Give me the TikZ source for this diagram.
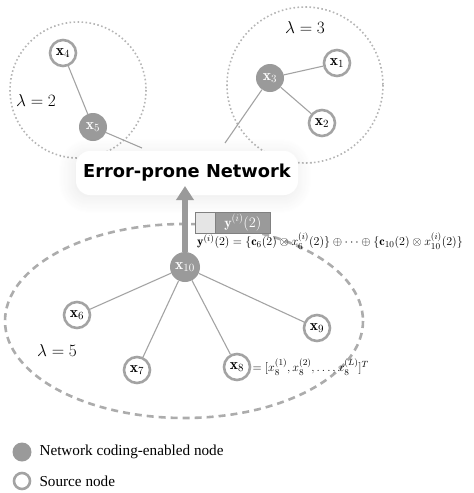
\documentclass[tikz,border=0pt]{standalone}
\usepackage{fontspec}
\usepackage{amsmath}
\newfontfamily\legendfont{Liberation Serif}
\newfontfamily\netfont{DejaVu Sans}
\usetikzlibrary{arrows.meta,shadows.blur}
\definecolor{ngray}{HTML}{A3A3A3}
\definecolor{dgray}{HTML}{9A9A9A}
\tikzset{
  src/.style={draw=ngray, line width=2.6pt, circle, fill=white, minimum size=26pt, inner sep=0pt, font=\fontsize{15.5}{15.5}\selectfont},
  nc/.style={circle, fill=dgray, text=white, minimum size=28pt, inner sep=0pt, font=\fontsize{15.5}{15.5}\selectfont},
  link/.style={draw=ngray, line width=1.1pt},
  zone/.style={draw=ngray!80, line width=1.6pt, dash pattern=on 1.6pt off 2.4pt},
  lbl/.style={font=\fontsize{16.5}{16.5}\selectfont}
}
\begin{document}
\begin{tikzpicture}[x=1pt,y=-1pt]
\useasboundingbox (0,0) rectangle (474,493);
% clusters
\draw[zone] (78,90) circle (68);
\draw[zone] (305,85) circle (78);
\draw[ngray!90, line width=2.6pt, dash pattern=on 7pt off 5pt] (184,321) ellipse (179 and 97);

% lambda = 2
\node[src] (x4) at (63,53) {$\mathbf{x}_4$};
\node[nc] (x5) at (93,127) {$\mathbf{x}_5$};
\node[lbl] (l2) at (36,100) {$\lambda=2$};
\coordinate (e5) at (142,148);
\path[link] (x4) -- (x5);
\path[link] (x5) -- (e5);

% lambda = 3
\node[nc] (x3) at (270,78) {$\mathbf{x}_3$};
\node[src] (x1) at (337,63) {$\mathbf{x}_1$};
\node[src] (x2) at (322,123) {$\mathbf{x}_2$};
\node[lbl] (l3) at (305,27) {$\lambda=3$};
\coordinate (e3) at (225,143);
\path[link] (x3) -- (x1);
\path[link] (x3) -- (x2);
\path[link] (x3) -- (e3);

% network
\node[fill=white, rounded corners=14pt, blur shadow={shadow xshift=-2pt, shadow yshift=-3pt, shadow blur radius=16pt, shadow blur steps=16, shadow opacity=9},
  minimum width=222pt, minimum height=44pt, font=\netfont\bfseries\fontsize{17.8}{17.8}\selectfont] (net) at (187,173) {Error-prone Network};

% lambda = 5
\node[nc, minimum size=30pt] (x10) at (185,267) {$\mathbf{x}_{10}$};
\node[src] (x6) at (77,315) {$\mathbf{x}_6$};
\node[src] (x7) at (137,370) {$\mathbf{x}_7$};
\node[src] (x8) at (237,367) {$\mathbf{x}_8$};
\node[src] (x9) at (317,328) {$\mathbf{x}_9$};
\node[lbl] (l5) at (57,350) {$\lambda=5$};
\path[link] (x10) -- (x6);
\path[link] (x10) -- (x7);
\path[link] (x10) -- (x8);
\path[link] (x10) -- (x9);
\node[anchor=west, inner sep=0pt, font=\fontsize{13.2}{13.2}\selectfont] (vec) at ([xshift=1pt]x8.east) {$=[x_8^{(1)},x_8^{(2)},\ldots,x_8^{(L)}]^T$};

% upload
\coordinate (tip) at (185,186);
\draw[dgray, line width=6pt, -{Triangle[length=14pt,width=17pt]}] (x10.north) -- (tip);
\node[draw=gray, fill=gray!20, minimum width=20pt, minimum height=21pt, inner sep=0pt] (pk1) at (205,222.5) {};
\node[draw=gray, fill=dgray, text=white, minimum width=55pt, minimum height=21pt, inner sep=0pt, anchor=west,
  font=\fontsize{14}{14}\selectfont] (pk2) at (pk1.east) {$\mathbf{y}^{(i)}(2)$};
\node[anchor=west, inner sep=0pt, font=\fontsize{12.2}{12.2}\selectfont] (eq) at (197,241)
  {$\mathbf{y}^{(i)}(2)=\{\mathbf{c}_6(2)\otimes x_6^{(i)}(2)\}\oplus\cdots\oplus\{\mathbf{c}_{10}(2)\otimes x_{10}^{(i)}(2)\}$};

% legend
\node[circle, fill=dgray, minimum size=19pt, inner sep=0pt] (k1) at (22,452) {};
\node[circle, draw=ngray, line width=2.6pt, minimum size=16pt, inner sep=0pt] (k2) at (22,481) {};
\node[anchor=west, font=\legendfont\fontsize{15.2}{15.2}\selectfont] (t1) at (36,452) {Network coding-enabled node};
\node[anchor=west, font=\legendfont\fontsize{15.2}{15.2}\selectfont] (t2) at (36,481) {Source node};
\end{tikzpicture}
\end{document}
